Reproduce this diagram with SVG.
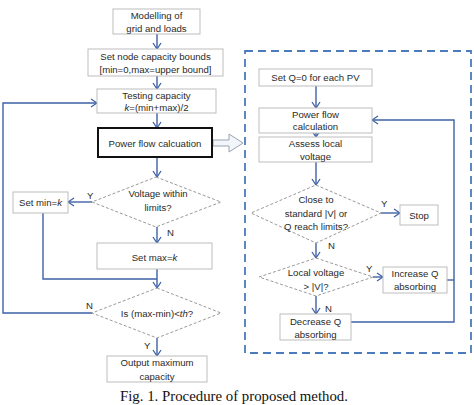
<svg xmlns="http://www.w3.org/2000/svg" width="474" height="405" viewBox="0 0 474 405">
<defs>
<style>
.box{fill:#fff;stroke:#bdbdbd;stroke-width:1}
.bold{fill:#fff;stroke:#111;stroke-width:2}
.dia{fill:#fff;stroke:#9a9a9a;stroke-width:1;stroke-dasharray:3 2}
.t{font-family:"Liberation Sans",Arial,sans-serif;font-size:9.6px;fill:#2a2a2a;text-anchor:middle}
.lbl{font-family:"Liberation Sans",Arial,sans-serif;font-size:9.6px;fill:#2a2a2a}
.c{fill:none;stroke:#3e62a6;stroke-width:1.4}
.a{marker-end:url(#arr)}
.frame{fill:none;stroke:#4a7cbb;stroke-width:1.8;stroke-dasharray:8 5}
.cap{font-family:"Liberation Serif","Times New Roman",serif;font-size:14px;fill:#111}
</style>
<marker id="arr" viewBox="0 0 8 10" refX="7" refY="5" markerWidth="8" markerHeight="10" markerUnits="userSpaceOnUse" orient="auto">
<path d="M1,1 L7,5 L1,9" fill="none" stroke="#3e62a6" stroke-width="1.3"/>
</marker>
</defs>

<rect class="frame" x="245" y="51" width="226" height="302"/>

<g id="connectors">
<line class="c a" x1="157" y1="34" x2="157" y2="49"/>
<line class="c a" x1="157" y1="76" x2="157" y2="89"/>
<line class="c a" x1="157" y1="113" x2="157" y2="128"/>
<line class="c a" x1="157" y1="157" x2="157" y2="177"/>
<line class="c a" x1="92" y1="202" x2="68" y2="202"/>
<line class="c a" x1="157" y1="227" x2="157" y2="243"/>
<polyline class="c" points="43,212 43,279 157,279"/>
<line class="c a" x1="157" y1="269" x2="157" y2="288"/>
<polyline class="c a" points="92,313 3,313 3,103 97,103"/>
<line class="c a" x1="157" y1="338" x2="157" y2="356"/>
<path d="M213,140 L229,140 L229,134 L243,143 L229,152 L229,146 L213,146 Z" fill="#f2f5fa" stroke="#9aa3b0" stroke-width="1"/>
<line class="c a" x1="316" y1="86" x2="316" y2="108"/>
<line class="c a" x1="316" y1="133" x2="316" y2="137"/>
<line class="c a" x1="316" y1="162" x2="316" y2="185"/>
<line class="c a" x1="381" y1="213" x2="400" y2="213"/>
<line class="c a" x1="316" y1="243" x2="316" y2="258"/>
<line class="c a" x1="373" y1="277" x2="383" y2="277"/>
<line class="c a" x1="316" y1="296" x2="316" y2="314"/>
<polyline class="c" points="447,280 454,280"/>
<polyline class="c a" points="351,322 454,322 454,120 372,120"/>
</g>

<g id="n1"><rect class="box" x="113" y="9" width="87" height="25"/>
<text class="t" x="156.5" y="19">Modelling of</text><text class="t" x="156.5" y="31.5">grid and loads</text></g>
<g id="n2"><rect class="box" x="88" y="49" width="135" height="27"/>
<text class="t" x="155.5" y="60">Set node capacity bounds</text><text class="t" x="155.5" y="73">[min=0,max=upper bound]</text></g>
<g id="n3"><rect class="box" x="97" y="89" width="119" height="24"/>
<text class="t" x="156.5" y="99">Testing capacity</text><text class="t" x="156.5" y="111"><tspan font-style="italic">k</tspan>=(min+max)/2</text></g>
<g id="n4"><rect class="bold" x="98" y="128" width="114" height="29"/>
<text class="t" x="155" y="146.5">Power flow calcuation</text></g>
<g id="n5"><polygon class="dia" points="156,177 221,202 156,227 92,202"/>
<text class="t" x="158" y="197">Voltage within</text><text class="t" x="158" y="210.5">limits?</text></g>
<g id="n6"><rect class="box" x="13" y="192" width="55" height="21"/>
<text class="t" x="40.5" y="206">Set min=<tspan font-style="italic">k</tspan></text></g>
<g id="n7"><rect class="box" x="97" y="243" width="115" height="26"/>
<text class="t" x="154.5" y="260.5">Set max=<tspan font-style="italic">k</tspan></text></g>
<g id="n8"><polygon class="dia" points="157,288 221,313 157,338 92,313"/>
<text class="t" x="157" y="316.5">Is (max-min)&lt;<tspan font-style="italic">th</tspan>?</text></g>
<g id="n9"><rect class="box" x="107" y="356" width="100" height="26"/>
<text class="t" x="157" y="366">Output maximum</text><text class="t" x="157" y="379.5">capacity</text></g>

<g id="r1"><rect class="box" x="259" y="69" width="113" height="17"/>
<text class="t" x="315.5" y="80.5">Set Q=0 for each PV</text></g>
<g id="r2"><rect class="box" x="259" y="108" width="113" height="25"/>
<text class="t" x="315.5" y="117.5">Power flow</text><text class="t" x="315.5" y="130">calculation</text></g>
<g id="r3"><rect class="box" x="259" y="137" width="113" height="25"/>
<text class="t" x="315.5" y="146.5">Assess local</text><text class="t" x="315.5" y="159.5">voltage</text></g>
<g id="r4"><polygon class="dia" points="316,185 381,213 316,243 251,213"/>
<text class="t" x="316" y="202.5">Close to</text><text class="t" x="316" y="216.5">standard |V| or</text><text class="t" x="316" y="230">Q reach limits?</text></g>
<g id="r5"><rect class="box" x="400" y="205" width="38" height="20"/>
<text class="t" x="419" y="218.5">Stop</text></g>
<g id="r6"><polygon class="dia" points="316,258 373,277 316,296 259,277"/>
<text class="t" x="316" y="276">Local voltage</text><text class="t" x="316" y="290">&gt; |V|?</text></g>
<g id="r7"><rect class="box" x="383" y="267" width="64" height="26"/>
<text class="t" x="415" y="276.5">Increase Q</text><text class="t" x="415" y="290">absorbing</text></g>
<g id="r8"><rect class="box" x="280" y="314" width="71" height="26"/>
<text class="t" x="315.5" y="325">Decrease Q</text><text class="t" x="315.5" y="337.5">absorbing</text></g>

<g id="labels">
<text class="lbl" x="87" y="199">Y</text>
<text class="lbl" x="167" y="236">N</text>
<text class="lbl" x="86" y="309">N</text>
<text class="lbl" x="144" y="349">Y</text>
<text class="lbl" x="381" y="207">Y</text>
<text class="lbl" x="328" y="249">N</text>
<text class="lbl" x="366" y="272">Y</text>
<text class="lbl" x="325" y="312">N</text>
</g>

<text class="cap" x="120" y="401" textLength="228" lengthAdjust="spacingAndGlyphs">Fig. 1. Procedure of proposed method.</text>
</svg>
